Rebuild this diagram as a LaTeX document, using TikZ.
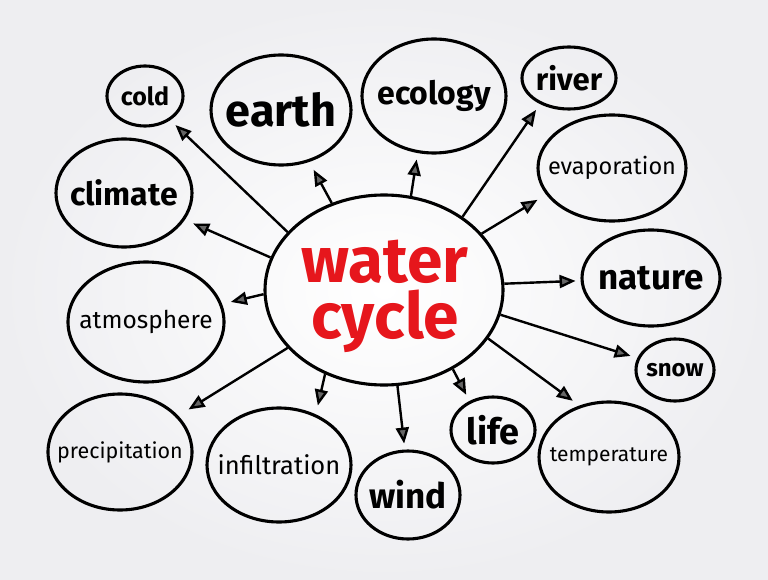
\documentclass[tikz,border=0pt]{standalone}
\usepackage{fontspec}
\setmainfont{Fira Sans}
\usetikzlibrary{shapes.geometric, arrows.meta}
\definecolor{marker}{RGB}{230,22,28}
\definecolor{paper}{RGB}{238,238,241}
\tikzstyle{bubble} = [ellipse, draw=black, line width=3.1pt, inner sep=0pt]
\tikzstyle{title} = [text=marker, font=\bfseries\fontsize{64}{64}\selectfont, anchor=base, inner sep=0pt]
\tikzstyle{arrow} = [line width=2.4pt, -{Triangle[length=16pt, width=13pt, fill=black!60]}]
\newcommand{\word}[2]{\makebox[0pt]{\fontsize{#1}{#1}\selectfont #2}}

\begin{document}
\begin{tikzpicture}[x=1pt, y=-1pt]

\useasboundingbox (0,0) rectangle (768,580);
\shade [inner color=white, outer color=paper] (0,0) rectangle (768,580);

\node (wc) [bubble, minimum width=238pt, minimum height=190pt] at (384,290) {};
\node (water) [title] at (385,282) {water};
\node (cycle) [title] at (385,338) {cycle};

\node (cold) [bubble, minimum width=76pt, minimum height=60pt] at (145,96) {\word{25}{\bfseries cold}};
\node (earth) [bubble, minimum width=140pt, minimum height=110pt] at (281,110) {\word{45}{\bfseries earth}};
\node (ecology) [bubble, minimum width=144pt, minimum height=114pt] at (434,96) {\word{32}{\bfseries ecology}};
\node (river) [bubble, minimum width=94pt, minimum height=62pt] at (569,78) {\word{31}{\bfseries river}};
\node (evap) [bubble, minimum width=148pt, minimum height=106pt] at (612,168) {\word{23.5}{evaporation}};
\node (climate) [bubble, minimum width=136pt, minimum height=108pt] at (124,193) {\word{32}{\bfseries climate}};
\node (nature) [bubble, minimum width=138pt, minimum height=96pt] at (651,278) {\word{35}{\bfseries nature}};
\node (atmo) [bubble, minimum width=156pt, minimum height=120pt] at (146,322) {\word{24.5}{atmosphere}};
\node (snow) [bubble, minimum width=78pt, minimum height=62pt] at (675,370) {\word{24}{\bfseries snow}};
\node (precip) [bubble, minimum width=144pt, minimum height=116pt] at (120,452) {\word{21.5}{precipitation}};
\node (infil) [bubble, minimum width=144pt, minimum height=114pt] at (279,465) {\word{25.5}{infiltration}};
\node (wind) [bubble, minimum width=104pt, minimum height=88pt] at (408,495) {\word{35}{\bfseries wind}};
\node (life) [bubble, minimum width=84pt, minimum height=66pt] at (493,430) {\word{36}{\bfseries life}};
\node (temp) [bubble, minimum width=140pt, minimum height=110pt] at (609,457) {\word{21}{temperature}};

% spokes out of the middle
\draw [arrow, shorten >=7pt] (wc.149) -- (cold);
\draw [arrow, shorten >=9pt] (wc.121) -- (earth);
\draw [arrow, shorten >=6.5pt] (wc.74) -- (ecology.254);
\draw [arrow, shorten >=7pt] (wc.43) -- (river.222);
\draw [arrow, shorten >=10pt] (wc.30) -- (evap.202);
\draw [arrow, shorten >=5pt] (wc.3) -- (nature);
\draw [arrow, shorten >=7pt] (wc.-12) -- (snow);
\draw [arrow, shorten >=8pt] (wc.-25) -- (temp.120);
\draw [arrow, shorten >=7pt] (wc.-49) -- (life.129);
\draw [arrow, shorten >=6pt] (wc.-82) -- (wind.94);
\draw [arrow, shorten >=9pt] (wc.235) -- (infil.54);
\draw [arrow, shorten >=12pt] (wc.211) -- (precip);
\draw [arrow, shorten >=9pt] (wc.182) -- (atmo);
\draw [arrow, shorten >=9pt] (wc.164) -- (climate);

\end{tikzpicture}
\end{document}
